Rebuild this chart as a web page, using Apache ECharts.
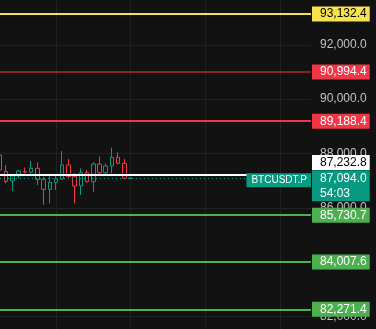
<!DOCTYPE html>
<html>
<head>
<meta charset="utf-8">
<script src="https://cdn.jsdelivr.net/npm/echarts@6/dist/echarts.min.js"></script>
<style>
html,body{margin:0;padding:0;background:#121212;}
#c{width:376px;height:329px;}
</style>
</head>
<body>
<div id="c"></div>
<script>
// ---- data ----
var categories = [];
for (var i = 1; i <= 51; i++) categories.push(String(i));
var openVals  = [87946, 87340, 86990, 87174, 87340, 87310, 87456, 87050, 86680, 86940, 87064, 87580, 87150, 86806, 87296, 86965, 87615, 87296, 87542, 87860, 87640, 87088];
var closeVals = [87394, 86975, 87174, 87358, 87320, 87456, 87050, 86680, 86940, 87064, 87580, 87150, 86806, 87296, 86965, 87615, 87296, 87542, 87860, 87640, 87088, 87094];
var lowVals   = [87330, 86900, 86622, 87088, 87270, 87270, 86840, 86110, 86170, 86660, 87027, 87120, 86170, 86475, 86930, 86598, 87247, 87260, 87270, 87615, 87050, 87075];
var highVals  = [87980, 87570, 87180, 87395, 87480, 87725, 87680, 87150, 87235, 87235, 88094, 87800, 87272, 87456, 87395, 87676, 87885, 87640, 88216, 88044, 87800, 87110];
var levelVals = [93132.4, 90994.4, 89188.4, 87232.8, 85730.7, 84007.6, 82271.4];
var lastPrice = 87094.0;
var countdown = '54:03';
var symbolName = 'BTCUSDT.P';
var yTicks = [80000, 82000, 84000, 86000, 88000, 90000, 92000, 94000];

// ---- helpers ----
function fmt(v) {
  var s = Number(v).toFixed(1);
  var parts = s.split('.');
  parts[0] = parts[0].replace(/\B(?=(\d{3})+(?!\d))/g, ',');
  return parts.join('.');
}
var F = "'Liberation Sans', Arial, sans-serif";
var RED = '#f23645', GREEN = '#4caf50', TEAL = '#089981', YELLOW = '#f7e44c';

var candleData = openVals.map(function (o, i) {
  return [o, closeVals[i], lowVals[i], highVals[i]];
});

function tag(bg, fg, extra) {
  var l = {
    show: true, position: 'end', distance: 1,
    backgroundColor: bg, color: fg, fontFamily: F, fontSize: 12,
    lineHeight: 14, padding: [1, 3, 0, 8],
    formatter: function (p) { return fmt(p.value); }
  };
  for (var k in extra) l[k] = extra[k];
  return l;
}

var levelStyles = [
  { line: { color: YELLOW, width: 2, type: 'solid' }, label: tag(YELLOW, '#000') },
  { line: { color: '#83252d', width: 2, type: 'solid' }, label: tag(RED, '#fff') },
  { line: { color: RED, width: 2, type: 'solid' }, label: tag(RED, '#fff') },
  { line: { color: '#ffffff', width: 2, type: 'solid' }, label: tag('#ffffff', '#000', { offset: [0, -12] }) },
  { line: { color: GREEN, width: 2, type: 'solid' }, label: tag(GREEN, '#fff') },
  { line: { color: GREEN, width: 2, type: 'solid' }, label: tag(GREEN, '#fff') },
  { line: { color: GREEN, width: 2, type: 'solid' }, label: tag(GREEN, '#fff') }
];

var markData = levelVals.map(function (v, i) {
  return { yAxis: v, lineStyle: levelStyles[i].line, label: levelStyles[i].label };
});
markData.push({
  yAxis: lastPrice,
  lineStyle: { color: TEAL, width: 1, type: [1, 3] },
  label: {
    show: true, position: 'insideEnd', distance: 0,
    backgroundColor: TEAL, color: '#fff', fontFamily: F, fontSize: 10,
    lineHeight: 12, padding: [2, 4, 0, 5], offset: [0, 2],
    formatter: function () { return symbolName; }
  }
});
markData.push({
  yAxis: lastPrice,
  lineStyle: { color: 'rgba(0,0,0,0)', width: 1 },
  label: {
    show: true, position: 'end', distance: 1,
    backgroundColor: TEAL, color: '#fff', fontFamily: F, fontSize: 12,
    padding: [1, 3, 0, 8], offset: [0, 7.5],
    formatter: function (p) { return '{a|' + fmt(p.value) + '}\n{b|' + countdown + '}'; },
    rich: {
      a: { color: '#fff', fontFamily: F, fontSize: 12, lineHeight: 15 },
      b: { color: '#fff', fontFamily: F, fontSize: 12, lineHeight: 15 }
    }
  }
});

var chart = echarts.init(document.getElementById('c'), null, { renderer: 'canvas' });
chart.setOption({
  backgroundColor: '#121212',
  animation: false,
  grid: { left: 0, right: 65, top: -9.6, bottom: -42.06, containLabel: false, outerBoundsMode: 'none' },
  xAxis: {
    type: 'category', data: categories, boundaryGap: false,
    axisLine: { show: false }, axisTick: { show: false }, axisLabel: { show: false },
    splitLine: {
      show: true,
      interval: function (idx) { return idx % 12 === 9; },
      lineStyle: { color: '#222222', width: 1 }
    }
  },
  yAxis: {
    type: 'value', position: 'right', min: yTicks[0], max: yTicks[yTicks.length - 1], interval: 2000,
    axisLine: { show: false }, axisTick: { show: false },
    axisLabel: {
      show: true, margin: 9, align: 'left', color: '#c3c3c3', fontFamily: F, fontSize: 12,
      formatter: function (v) { return fmt(v); }
    },
    splitLine: { show: true, lineStyle: { color: '#222222', width: 1 } }
  },
  series: [{
    type: 'candlestick',
    data: candleData,
    barWidth: 4,
    itemStyle: {
      color: '#121212', color0: '#121212',
      borderColor: TEAL, borderColor0: RED, borderWidth: 1
    },
    markLine: {
      silent: true, symbol: ['none', 'none'], animation: false,
      data: markData
    }
  }]
});
</script>
</body>
</html>
